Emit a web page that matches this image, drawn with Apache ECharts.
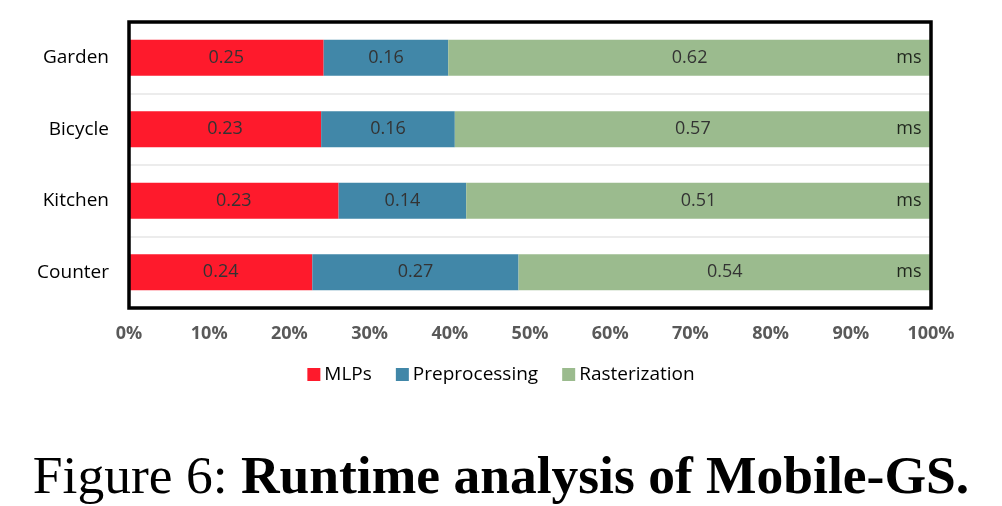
<!DOCTYPE html>
<html>
<head>
<meta charset="utf-8">
<script src="https://cdn.jsdelivr.net/npm/echarts@6/dist/echarts.min.js"></script>
<style>
html,body{margin:0;padding:0;background:#fff;}
#c{width:1002px;height:506px;}
</style>
</head>
<body>
<div id="c"></div>
<script>
var categories = ['Garden', 'Bicycle', 'Kitchen', 'Counter'];
var mlps = [0.25, 0.23, 0.23, 0.24];
var preprocessing = [0.16, 0.16, 0.14, 0.27];
var rasterization = [0.62, 0.57, 0.51, 0.54];
var xTicks = [0, 10, 20, 30, 40, 50, 60, 70, 80, 90, 100];
var unitLabel = 'ms';

var totals = categories.map(function (c, i) { return mlps[i] + preprocessing[i] + rasterization[i]; });
function pct(arr) {
  return arr.map(function (v, i) { return { value: v / totals[i] * 100, raw: v }; });
}
var FONT = 'Open Sans';
var chart = echarts.init(document.getElementById('c'));
function valueLabel() {
  return {
    show: true, position: 'inside', color: '#333', fontSize: 18, fontFamily: FONT,
    formatter: function (p) { return p.data.raw.toFixed(2); }
  };
}
chart.setOption({
  animation: false,
  textStyle: { fontFamily: FONT },
  title: {
    text: '{n|Figure 6: }{b|Runtime analysis of Mobile-GS.}',
    left: 'center', top: 447,
    textStyle: {
      rich: {
        n: { fontFamily: 'Liberation Serif', fontSize: 53.5, fontWeight: 'normal', color: '#000' },
        b: { fontFamily: 'Liberation Serif', fontSize: 53.5, fontWeight: 'bold', color: '#000' }
      }
    }
  },
  legend: {
    data: ['MLPs', 'Preprocessing', 'Rasterization'],
    top: 360, left: 'center',
    itemWidth: 13, itemHeight: 13, itemGap: 24,
    icon: 'rect',
    textStyle: { fontSize: 19, color: '#000', fontFamily: FONT, padding: [0, 0, 0, -1] }
  },
  grid: {
    left: 129, right: 71, top: 22, bottom: 198, z: 10,
    show: true, borderColor: '#000', borderWidth: 3.5
  },
  xAxis: {
    type: 'value', min: 0, max: 100, interval: 10,
    axisLine: { show: false }, axisTick: { show: false }, splitLine: { show: false },
    axisLabel: {
      margin: 17, fontSize: 18, fontWeight: 'bold', color: '#595959', fontFamily: FONT,
      formatter: function (v) { return xTicks.indexOf(v) >= 0 ? v + '%' : ''; }
    }
  },
  yAxis: {
    type: 'category', data: categories, inverse: true,
    axisLine: { show: false }, axisTick: { show: false },
    splitLine: { show: true, showMinLine: false, showMaxLine: false, lineStyle: { color: '#e6e6e6', width: 1.5 } },
    axisLabel: { margin: 20, fontSize: 19, color: '#000', fontFamily: FONT }
  },
  series: [
    { name: 'MLPs', type: 'bar', stack: 't', barWidth: 36, data: pct(mlps),
      itemStyle: { color: '#FE1A2C' }, label: valueLabel() },
    { name: 'Preprocessing', type: 'bar', stack: 't', barWidth: 36, data: pct(preprocessing),
      itemStyle: { color: '#4187A8' }, label: valueLabel() },
    { name: 'Rasterization', type: 'bar', stack: 't', barWidth: 36, data: pct(rasterization),
      itemStyle: { color: '#9BBB8E' }, label: valueLabel() },
    { name: 'unit', type: 'scatter', symbolSize: 1, silent: true,
      itemStyle: { color: 'transparent' },
      data: categories.map(function (c) { return [100, c]; }),
      label: { show: true, position: 'left', distance: 9, formatter: unitLabel, color: '#000', fontSize: 18, fontFamily: FONT },
      z: 5 }
  ]
});
</script>
</body>
</html>
